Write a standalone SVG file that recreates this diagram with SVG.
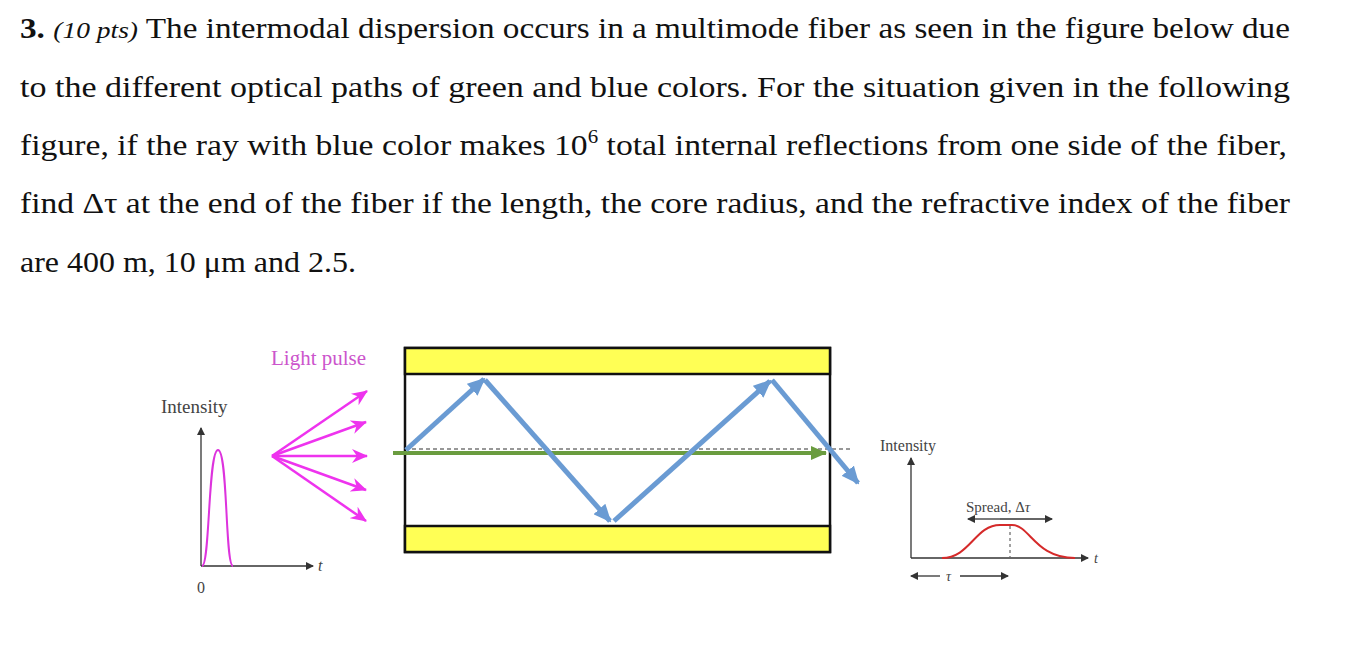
<svg xmlns="http://www.w3.org/2000/svg" width="1370" height="652" viewBox="0 0 1370 652">
<style>
.t{font-family:"Liberation Serif",serif;font-size:29px;fill:#111}
.s{font-family:"Liberation Serif",serif;fill:#444}
.ax{stroke:#333;stroke-width:1.3;fill:none}
.mg{stroke:#ee33ee;stroke-width:2.5;fill:none}
.bl{stroke:#6a9bd3;stroke-width:5;fill:none}
</style>
<defs>
<marker id="ma" markerWidth="8" markerHeight="8" refX="7" refY="4" orient="auto" markerUnits="userSpaceOnUse"><path d="M0,0L8,4L0,8z" fill="#333"/></marker>
<marker id="mm" markerWidth="16" markerHeight="14" refX="15" refY="7" orient="auto" markerUnits="userSpaceOnUse"><path d="M0,0L16,7L0,14L5,7z" fill="#ee33ee"/></marker>
<marker id="mb" markerWidth="18" markerHeight="16" refX="16" refY="8" orient="auto" markerUnits="userSpaceOnUse"><path d="M0,0L18,8L0,16z" fill="#6a9bd3"/></marker>
<marker id="mgr" markerWidth="16" markerHeight="14" refX="15" refY="7" orient="auto" markerUnits="userSpaceOnUse"><path d="M0,0L16,7L0,14z" fill="#6a9c3f"/></marker>
</defs>
<rect width="1370" height="652" fill="#fff"/>
<g id="text">
<text class="t" x="20" y="38" textLength="1270" lengthAdjust="spacingAndGlyphs"><tspan font-weight="bold">3.</tspan> <tspan font-style="italic" font-size="24">(10 pts)</tspan> The intermodal dispersion occurs in a multimode fiber as seen in the figure below due</text>
<text class="t" x="20" y="97" textLength="1270" lengthAdjust="spacingAndGlyphs">to the different optical paths of green and blue colors. For the situation given in the following</text>
<text class="t" x="20" y="155" textLength="1267" lengthAdjust="spacingAndGlyphs">figure, if the ray with blue color makes 10<tspan font-size="18" dy="-12">6</tspan><tspan dy="12"> total internal reflections from one side of the fiber,</tspan></text>
<text class="t" x="20" y="213" textLength="1270" lengthAdjust="spacingAndGlyphs">find Δτ at the end of the fiber if the length, the core radius, and the refractive index of the fiber</text>
<text class="t" x="20" y="272" textLength="336" lengthAdjust="spacingAndGlyphs">are 400 m, 10 μm and 2.5.</text>
</g>
<g id="input-pulse">
<text class="s" x="161" y="413" font-size="19">Intensity</text>
<line class="ax" x1="201" y1="566" x2="201" y2="428" marker-end="url(#ma)"/>
<line class="ax" x1="201" y1="566" x2="313" y2="566" marker-end="url(#ma)"/>
<text class="s" x="318" y="571" font-size="16" font-style="italic">t</text>
<text class="s" x="197" y="593" font-size="16">0</text>
<path d="M202,566 C210,566 208,450 218,450 C228,450 225,566 233,566" stroke="#dd33dd" stroke-width="2" fill="none"/>
</g>
<g id="light-pulse">
<text x="271" y="365" font-family="Liberation Serif,serif" font-size="21" fill="#cc55cc">Light pulse</text>
<line class="mg" x1="272" y1="456" x2="367" y2="391" marker-end="url(#mm)"/>
<line class="mg" x1="272" y1="456" x2="366" y2="422" marker-end="url(#mm)"/>
<line class="mg" x1="272" y1="456" x2="367" y2="456" marker-end="url(#mm)"/>
<line class="mg" x1="272" y1="456" x2="366" y2="490" marker-end="url(#mm)"/>
<line class="mg" x1="272" y1="456" x2="366" y2="521" marker-end="url(#mm)"/>
</g>
<g id="fiber">
<rect x="405" y="348" width="425" height="204" fill="#fff" stroke="#111" stroke-width="2.5"/>
<rect x="405" y="348" width="425" height="26" fill="#ffff55" stroke="#111" stroke-width="2.5"/>
<rect x="405" y="526" width="425" height="26" fill="#ffff55" stroke="#111" stroke-width="2.5"/>
</g>
<g id="connectors">
<line x1="405" y1="449" x2="850" y2="449" stroke="#333" stroke-width="1.2" stroke-dasharray="4,3"/>
<line x1="393" y1="453" x2="826" y2="453" stroke="#6a9c3f" stroke-width="4" marker-end="url(#mgr)"/>
<line class="bl" x1="406" y1="450" x2="484" y2="379" marker-end="url(#mb)"/>
<line class="bl" x1="485" y1="380" x2="610" y2="521" marker-end="url(#mb)"/>
<line class="bl" x1="614" y1="521" x2="770" y2="381" marker-end="url(#mb)"/>
<line class="bl" x1="772" y1="380" x2="858" y2="483" marker-end="url(#mb)"/>
</g>
<g id="output-pulse">
<text class="s" x="880" y="451" font-size="16">Intensity</text>
<line class="ax" x1="911" y1="558" x2="911" y2="458" marker-end="url(#ma)"/>
<line class="ax" x1="911" y1="558" x2="1088" y2="558" marker-end="url(#ma)"/>
<text class="s" x="1094" y="563" font-size="14" font-style="italic">t</text>
<path d="M942,558 C970,558 975,525 1000,525 L1012,525 C1030,525 1035,558 1075,558" stroke="#d52a2a" stroke-width="2" fill="none"/>
<line x1="1010" y1="526" x2="1010" y2="557" stroke="#444" stroke-width="1" stroke-dasharray="3,3"/>
<text class="s" x="966" y="512" font-size="15">Spread, Δ<tspan font-style="italic">τ</tspan></text>
<line class="ax" x1="1000" y1="519" x2="968" y2="519" marker-end="url(#ma)"/>
<line class="ax" x1="1000" y1="519" x2="1052" y2="519" marker-end="url(#ma)"/>
<line class="ax" x1="940" y1="576" x2="911" y2="576" marker-end="url(#ma)"/>
<text class="s" x="946" y="581" font-size="14" font-style="italic">τ</text>
<line class="ax" x1="960" y1="576" x2="1008" y2="576" marker-end="url(#ma)"/>
</g>
</svg>
